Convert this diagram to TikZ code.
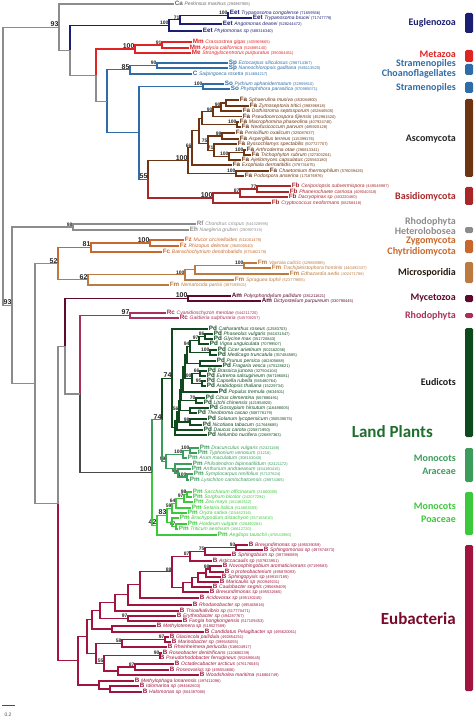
\documentclass[tikz,border=0pt]{standalone}
\usepackage{fontspec}
\setmainfont{Liberation Sans}
\newfontfamily\grpfont{Carlito}
\usetikzlibrary{calc}
\definecolor{eugcol}{HTML}{1A1F71}
\definecolor{metcol}{HTML}{E02424}
\definecolor{stracol}{HTML}{2F6DA8}
\definecolor{ascocol}{HTML}{6E3512}
\definecolor{basicol}{HTML}{A8282A}
\definecolor{greycol}{HTML}{8C8C8C}
\definecolor{darkcol}{HTML}{4A4A4A}
\definecolor{zygcol}{HTML}{C8682C}
\definecolor{miccol}{HTML}{BC7A40}
\definecolor{myccol}{HTML}{5C0A2E}
\definecolor{rccol}{HTML}{A8305C}
\definecolor{eudcol}{HTML}{0E4A1E}
\definecolor{landcol}{HTML}{1E6E2E}
\definecolor{aracol}{HTML}{3C9C5C}
\definecolor{poacol}{HTML}{3CC83C}
\definecolor{baccol}{HTML}{A0143F}
\definecolor{bactxt}{HTML}{7A0A2A}

\newcommand{\leaftxt}[3]{{\bfseries\fontsize{6.3}{7}\selectfont #1}\hspace{1.8pt}{\itshape\fontsize{5}{6}\selectfont #2}\hspace{1.5pt}{\fontsize{4}{5}\selectfont(#3)}}
\newcommand{\bigbs}{\fontsize{7}{8}\selectfont}
% clade: name, x, first child, second child, colours of the two branches, support
\newcommand{\clade}[7]{%
  \path let \p1=($(#3)!.5!(#4)$), \p2=(#2,0) in coordinate (#1) at (\x2,\y1);
  \draw[branch,#5] (#1) |- (#3);
  \draw[branch,#6] (#1) |- (#4);
  \ifx\relax#7\relax\else\node[bs] (#1-bs) at (#1) {#7};\fi}

\begin{document}
\begin{tikzpicture}[x=1pt, y=-1pt,
    branch/.style={line width=1.05pt},
    leaf/.style={anchor=west, inner xsep=0.6pt, inner ysep=0pt, text height=4pt, text depth=0.8pt},
    bs/.style={anchor=south east, inner sep=0.3pt, font=\bfseries\fontsize{5}{6}\selectfont, text=black!85},
    grp/.style={anchor=east, inner sep=0pt, text height=6.6pt, text depth=1.6pt, font=\grpfont\bfseries\fontsize{10}{11}\selectfont},
    bar/.style={rounded corners=1.5pt}]
  \useasboundingbox (0,0) rectangle (474,719);

  % leaves
  \node[leaf, text=black!60] (ca) at (174,4) {\leaftxt{Ca}{Perkinsus marinus}{294967905}};
  \foreach \n/\x/\y/\cd/\nm/\gi in {eug1/229/13/Eet/Trypanosoma congolense/71659556,
      eug2/252/18/Eet/Trypanosoma brucei/71747778, eug3/222/24/Eet/Angomonas deanei/528244472,
      eug4/202/31/Eet/Phytomonas sp/588316340}
    \node[leaf, text=eugcol] (\n) at (\x,\y) {\leaftxt{\cd}{\nm}{\gi}};
  \foreach \n/\x/\y/\cd/\nm/\gi in {met1/192/42/Mm/Crassostrea gigas/405969665,
      met2/189/48/Mm/Aplysia californica/524885140, met3/191/53/Me/Strongylocentrotus purpuratus/390364451}
    \node[leaf, text=metcol] (\n) at (\x,\y) {\leaftxt{\cd}{\nm}{\gi}};
  \foreach \n/\x/\y/\cd/\nm/\gi in {str1/228/63/Sp/Ectocarpus siliculosus/298714367,
      str2/228/68/Sp/Nannochloropsis gaditana/585113520, cho1/192/74/C/Salpingoeca rosetta/514684217,
      sto1/224/84/So/Pythium aphanidermatum/32959810, sto2/230/89/So/Phytophthora parasitica/570985071}
    \node[leaf, text=stracol] (\n) at (\x,\y) {\leaftxt{\cd}{\nm}{\gi}};
  \foreach \n/\x/\y/\nm/\gi in {asc1/239/100/Sphaerulina musiva/453084900,
      asc2/249/106/Zymoseptoria tritici/398396918, asc3/242/111/Dothistroma septosporum/452840505,
      asc4/242/116.5/Pseudocercospora fijiensis/452981520, asc5/239/122/Macrophomina phaseolina/407924740,
      asc6/241/127/Neofusicoccum parvum/485920128, asc7/235/133/Penicillium oxalicum/325087637,
      asc8/239/139/Aspergillus terreus/115399176, asc9/237/144/Byssochlamys spectabilis/507727707,
      asc10/246/150/Arthroderma otae/296813341, asc11/251/155/Trichophyton rubrum/327303204,
      asc12/241/160/Ajellomyces capsulatus/225563180, asc13/232/165/Exophiala dermatitidis/378731675,
      asc14/269/171/Chaetomium thermophilum/576039426, asc15/244/176/Podospora anserina/171676976}
    \node[leaf, text=ascocol] (\n) at (\x,\y) {\leaftxt{Fa}{\nm}{\gi}};
  \foreach \n/\x/\y/\nm/\gi in {bas1/291/186/Ceriporiopsis subvermispora/449548987,
      bas2/289/192/Phanerochaete carnosa/409040318, bas3/288/197/Dacryopinax sp/403220460,
      bas4/271/203/Cryptococcus neoformans/58258418}
    \node[leaf, text=basicol] (\n) at (\x,\y) {\leaftxt{Fb}{\nm}{\gi}};
  \foreach \n/\x/\y/\cd/\nm/\gi in {rho1/196/224/Rf/Chondrus crispus/544328995,
      het1/189/230/Eh/Naegleria gruberi/290997319}
    \node[leaf, text=greycol] (\n) at (\x,\y) {\leaftxt{\cd}{\nm}{\gi}};
  \foreach \n/\x/\y/\cd/\nm/\gi in {zyg1/184/240/Fz/Mucor circinelloides/511001478,
      zyg2/179/246/Fz/Rhizopus delemar/384500540, chy1/162/252/Fc/Batrachochytrium dendrobatidis/575482178}
    \node[leaf, text=zygcol] (\n) at (\x,\y) {\leaftxt{\cd}{\nm}{\gi}};
  \foreach \n/\x/\y/\nm/\gi in {mic1/257/263/Vavraia culicis/429860985,
      mic2/271/268/Trachipleistophora hominis/440492337, mic3/289/274/Edhazardia aedis/402471786,
      mic4/234/280/Spraguea lophii/523779855, mic5/169/285/Nematocida parisii/387593501}
    \node[leaf, text=miccol] (\n) at (\x,\y) {\leaftxt{Fm}{\nm}{\gi}};
  \foreach \n/\x/\y/\nm/\gi in {myc1/231/296/Polysphondylium pallidum/281211621,
      myc2/261/301/Dictyostelium purpureum/330790445}
    \node[leaf, text=myccol] (\n) at (\x,\y) {\leaftxt{Am}{\nm}{\gi}};
  \foreach \n/\x/\y/\nm/\gi in {rc1/166/313/Cyanidioschyzon merolae/544211720,
      rc2/179/318/Galdieria sulphuraria/545709257}
    \node[leaf, text=rccol] (\n) at (\x,\y) {\leaftxt{Rc}{\nm}{\gi}};
  \foreach \n/\x/\y/\nm/\gi in {eud1/208/329/Catharanthus roseus/12583703,
      eud2/213/334/Phaseolus vulgaris/561031547, eud3/213/339/Glycine max/351720843,
      eud4/209/344/Vigna unguiculata/70799507, eud5/217/350/Cicer arietinum/502162036,
      eud6/217/355/Medicago truncatula/357484585, eud7/216/361/Prunus persica/462405688,
      eud8/222/366/Fragaria vesca/470128621, eud9/207/371/Brassica juncea/327504104,
      eud10/206/376/Eutrema salsugineum/567196081, eud11/206/381/Capsella rubella/565480764,
      eud12/206/386/Arabidopsis thaliana/15229734, eud13/218/392/Populus tremula/8634501,
      eud14/205/398/Citrus clementina/567880491, eud15/203/403/Litchi chinensis/421954920,
      eud16/209/408/Gossypium hirsutum/116488005, eud17/197/413/Theobroma cacao/508778179,
      eud18/207/419/Solanum lycopersicum/350539075, eud19/202/425/Nicotiana tabacum/117648685,
      eud20/203/430/Daucus carota/225871950, eud21/207/435/Nelumbo nucifera/226897363}
    \node[leaf, text=eudcol] (\n) at (\x,\y) {\leaftxt{Pd}{\nm}{\gi}};
  \foreach \n/\x/\y/\nm/\gi in {ara1/199/448/Dracunculus vulgaris/52421168,
      ara2/197/453/Typhonium venosum/21216, ara3/187/458/Arum maculatum/308153040,
      ara4/192/464/Philodendron bipinnatifidum/52421172, ara5/191/469/Anthurium andraeanum/454180415,
      ara6/193/474/Symplocarpus renifolius/57137624, ara7/189/480/Lysichiton camtschatcensis/28874365}
    \node[leaf, text=aracol] (\n) at (\x,\y) {\leaftxt{Pm}{\nm}{\gi}};
  \foreach \n/\x/\y/\nm/\gi in {poa1/192/492/Saccharum officinarum/31860095,
      poa2/192/497/Sorghum bicolor/242077294, poa3/193/502/Zea mays/162462512,
      poa4/191/508/Setaria italica/514803593, poa5/187/513/Oryza sativa/115462316,
      poa6/179/518/Brachypodium distachyon/357165610, poa7/187/524/Hordeum vulgare/326490264,
      poa8/178/529/Triticum aestivum/16612720, poa9/217/535/Aegilops tauschii/475543980}
    \node[leaf, text=poacol] (\n) at (\x,\y) {\leaftxt{Pm}{\nm}{\gi}};
  \foreach \n/\x/\y/\nm/\gi in {bac1/248/545/Brevundimonas sp/495539059,
      bac2/263/550/Sphingomonas sp/497874873, bac3/231/555/Sphingobium sp/387396089,
      bac4/212/561/Asticcacaulis sp/507923951, bac5/222/566/Novosphingobium aromaticivorans/87199583,
      bac6/224/572/α proteobacterium/495878093, bac7/221/577/Sphingopyxis sp/499157185,
      bac8/219/582/Maricaulis sp/500949231, bac9/212/587/Caulobacter segnis/295689409,
      bac10/209/592/Brevundimonas sp/495532665, bac11/199/598/Acidovorax sp/495130245,
      bac12/192/605/Rhodanobacter sp/495465816, bac13/179/611/Thioalkalivibrio sp/517770471,
      bac14/176/616/Erythrobacter sp/494287767, bac15/182/621/Fangia hongkongensis/517109453,
      bac16/156/626/Methylotenera sp/519027589, bac17/204/632/Candidatus Pelagibacter sp/495620061,
      bac18/169/637/Glaciecola pallidula/492854251, bac19/171/642/Marinobacter sp/399545055,
      bac20/167/647/Rheinheimera perlucida/518604917, bac21/162/653/Roseobacter denitrificans/110680239,
      bac22/159/658/Pseudorhodobacter ferrugineus/552690645, bac23/174/664/Octadecabacter arcticus/476176045,
      bac24/169/670/Roseovarius sp/495554606, bac25/199/675/Woodsholea maritima/516804749,
      bac26/134/681/Methylophaga lonarensis/497411096, bac27/139/686/Idiomarina sp/494662603,
      bac28/142/692/Halomonas sp/504387068}
    \node[leaf, text=baccol] (\n) at (\x,\y) {\leaftxt{B}{\nm}{\gi}};

  % upper clades
  \clade{g1}{228}{eug1}{eug2}{eugcol}{eugcol}{100}
  \clade{g2}{180}{g1}{eug3}{eugcol}{eugcol}{71}
  \clade{g3}{169}{g2}{eug4}{eugcol}{eugcol}{100}
  \clade{m1}{162}{met1}{met2}{metcol}{metcol}{91}
  \clade{m2}{135}{m1}{met3}{metcol}{metcol}{\bigbs 100}
  \clade{s1}{157}{str1}{str2}{stracol}{stracol}{90}
  \clade{s2}{130}{s1}{cho1}{stracol}{stracol}{\bigbs 85}
  \clade{s3}{203}{sto1}{sto2}{stracol}{stracol}{100}
  \clade{d1}{226}{asc1}{asc2}{ascocol}{ascocol}{}
  \clade{d2}{221}{d1}{asc3}{ascocol}{ascocol}{90}
  \clade{d3}{213}{d2}{asc4}{ascocol}{ascocol}{90}
  \clade{d4}{237}{asc5}{asc6}{ascocol}{ascocol}{100}
  \clade{d5}{202}{d3}{d4}{ascocol}{ascocol}{}
  \clade{e1}{222}{asc7}{asc8}{ascocol}{ascocol}{99}
  \clade{e2}{244}{asc10}{asc11}{ascocol}{ascocol}{100}
  \clade{e3}{229}{e2}{asc12}{ascocol}{ascocol}{100}
  \clade{e4}{214}{asc9}{e3}{ascocol}{ascocol}{71}
  \clade{e5}{208}{e1}{e4}{ascocol}{ascocol}{75}
  \clade{a2}{199}{d5}{e5}{ascocol}{ascocol}{}
  \clade{a1}{192}{a2}{asc13}{ascocol}{ascocol}{66}
  \clade{ch}{236}{asc14}{asc15}{ascocol}{ascocol}{100}
  \clade{ascr}{188}{a1}{ch}{ascocol}{ascocol}{\bigbs 100}
  \clade{bb1}{257}{bas1}{bas2}{basicol}{basicol}{77}
  \clade{bb2}{240}{bb1}{bas3}{basicol}{basicol}{87}
  \clade{bb3}{213}{bb2}{bas4}{basicol}{basicol}{\bigbs 100}
  \clade{H}{148}{ascr}{bb3}{ascocol}{basicol}{\bigbs 55}
  \clade{G}{139}{s3}{H}{stracol}{stracol}{}
  \clade{E}{107}{s2}{G}{stracol}{stracol}{}
  \clade{D}{96}{m2}{E}{metcol}{greycol}{}
  \clade{C}{70}{g3}{D}{eugcol}{greycol}{}
  \clade{A}{59}{ca}{C}{greycol}{greycol}{\bigbs 93}

  % lower clades
  \clade{rh}{73}{rho1}{het1}{greycol}{greycol}{98}
  \clade{z1}{150}{zyg1}{zyg2}{zygcol}{zygcol}{\bigbs 100}
  \clade{z2}{91}{z1}{chy1}{zygcol}{zygcol}{\bigbs 81}
  \clade{mi1}{244}{mic1}{mic2}{miccol}{miccol}{100}
  \clade{mi2}{195}{mi1}{mic3}{miccol}{miccol}{}
  \clade{mi3}{185}{mi2}{mic4}{miccol}{miccol}{100}
  \clade{mi4}{88}{mi3}{mic5}{miccol}{miccol}{\bigbs 62}
  \clade{F5}{58}{z2}{mi4}{zygcol}{miccol}{\bigbs 52}
  \clade{myc}{188}{myc1}{myc2}{myccol}{myccol}{\bigbs 100}
  \clade{rc}{130}{rc1}{rc2}{rccol}{rccol}{\bigbs 97}
  \clade{f1}{205}{eud2}{eud3}{eudcol}{eudcol}{86}
  \clade{f2}{199}{f1}{eud4}{eudcol}{eudcol}{97}
  \clade{f3}{210}{eud5}{eud6}{eudcol}{eudcol}{100}
  \clade{f4}{190}{f2}{f3}{eudcol}{eudcol}{94}
  \clade{r1}{200}{eud7}{eud8}{eudcol}{eudcol}{}
  \clade{eI}{187}{f4}{r1}{eudcol}{eudcol}{}
  \clade{k1}{200}{eud9}{eud10}{eudcol}{eudcol}{66}
  \clade{k2}{202}{eud11}{eud12}{eudcol}{eudcol}{95}
  \clade{k3}{192}{k1}{k2}{eudcol}{eudcol}{100}
  \clade{eH}{185}{eI}{k3}{eudcol}{eudcol}{}
  \clade{eG}{183}{eH}{eud13}{eudcol}{eudcol}{}
  \clade{c1}{196}{eud14}{eud15}{eudcol}{eudcol}{70}
  \clade{eF}{181}{eG}{c1}{eudcol}{eudcol}{}
  \clade{t1}{190}{eud16}{eud17}{eudcol}{eudcol}{}
  \clade{eD}{180}{eF}{t1}{eudcol}{eudcol}{}
  \clade{so1}{190}{eud18}{eud19}{eudcol}{eudcol}{98}
  \clade{eC}{179}{eD}{so1}{eudcol}{eudcol}{56}
  \clade{eB}{177}{eC}{eud20}{eudcol}{eudcol}{}
  \clade{eA}{175}{eB}{eud21}{eudcol}{eudcol}{}
  \clade{eu}{172}{eud1}{eA}{eudcol}{eudcol}{\bigbs 74}
  \clade{ar1}{190}{ara1}{ara2}{aracol}{aracol}{100}
  \clade{ar2}{183}{ar1}{ara3}{aracol}{aracol}{100}
  \clade{ar3}{187}{ara6}{ara7}{aracol}{aracol}{100}
  \clade{ar4}{178}{ara5}{ar3}{aracol}{aracol}{95}
  \clade{ar5}{175}{ara4}{ar4}{aracol}{aracol}{}
  \clade{ar}{166}{ar2}{ar5}{aracol}{aracol}{99}
  \clade{X}{162}{eu}{ar}{eudcol}{aracol}{\bigbs 74}
  \clade{p1}{187}{poa1}{poa2}{poacol}{poacol}{98}
  \clade{p2}{184}{p1}{poa3}{poacol}{poacol}{97}
  \clade{p3}{176}{p2}{poa4}{poacol}{poacol}{64}
  \clade{p4}{172}{p3}{poa5}{poacol}{poacol}{59}
  \clade{p6}{176}{poa7}{poa8}{poacol}{poacol}{97}
  \clade{p7}{172}{poa6}{p6}{poacol}{poacol}{}
  \clade{p5}{167}{p4}{p7}{poacol}{poacol}{\bigbs 83}
  \clade{po}{157}{p5}{poa9}{poacol}{poacol}{\bigbs 42}
  \clade{PL}{152}{X}{po}{aracol}{poacol}{\bigbs 100}
  \clade{b1}{236}{bac1}{bac2}{baccol}{baccol}{93}
  \clade{b2}{205}{b1}{bac3}{baccol}{baccol}{75}
  \clade{b3}{190}{b2}{bac4}{baccol}{baccol}{87}
  \clade{b4}{210}{bac5}{bac6}{baccol}{baccol}{98}
  \clade{b5}{206}{b4}{bac7}{baccol}{baccol}{}
  \clade{b6}{198}{b5}{bac8}{baccol}{baccol}{}
  \clade{b7}{192}{b6}{bac9}{baccol}{baccol}{}
  \clade{b8}{183}{b7}{bac10}{baccol}{baccol}{}
  \clade{b9}{172}{b3}{b8}{baccol}{baccol}{88}
  \clade{b10}{140}{b9}{bac11}{baccol}{baccol}{}
  \clade{b11}{128}{b10}{bac12}{baccol}{baccol}{}
  \clade{b12}{115}{b11}{bac13}{baccol}{baccol}{}
  \clade{b13}{128}{bac14}{bac15}{baccol}{baccol}{97}
  \clade{b14}{100}{b12}{b13}{baccol}{baccol}{}
  \clade{b15}{112}{bac16}{bac17}{baccol}{baccol}{}
  \clade{b16}{92}{b14}{b15}{baccol}{baccol}{}
  \clade{b17}{165}{bac18}{bac19}{baccol}{baccol}{97}
  \clade{b18}{122}{b17}{bac20}{baccol}{baccol}{58}
  \clade{b19}{160}{bac21}{bac22}{baccol}{baccol}{90}
  \clade{b20}{135}{bac23}{bac24}{baccol}{baccol}{87}
  \clade{b21}{118}{b20}{bac25}{baccol}{baccol}{}
  \clade{b22}{104}{b19}{b21}{baccol}{baccol}{55}
  \clade{b23}{96}{b18}{b22}{baccol}{baccol}{}
  \clade{b24}{87}{b16}{b23}{baccol}{baccol}{}
  \clade{b25}{110}{bac27}{bac28}{baccol}{baccol}{}
  \clade{b26}{99}{bac26}{b25}{baccol}{baccol}{}
  \clade{eub}{78}{b24}{b26}{baccol}{baccol}{}
  \clade{R}{80}{rc}{PL}{rccol}{darkcol}{}
  \clade{Q}{65}{myc}{R}{myccol}{greycol}{}
  \clade{P}{58}{Q}{eub}{greycol}{baccol}{}
  \clade{N}{35}{F5}{P}{greycol}{greycol}{}
  \clade{B}{12}{rh}{N}{greycol}{greycol}{\bigbs 93}
  \clade{root}{3}{A}{B}{greycol}{greycol}{}

  % group labels and bars
  \node[grp, text=eugcol] (lEug) at (456,23) {Euglenozoa};
  \node[grp, text=metcol] (lMet) at (456,55) {Metazoa};
  \node[grp, text=stracol] (lStr) at (456,64) {Stramenopiles};
  \node[grp, text=stracol] (lCho) at (456,74.5) {Choanoflagellates};
  \node[grp, text=stracol] (lSto) at (456,88) {Stramenopiles};
  \node[grp, text=black!85] (lAsc) at (456,139) {Ascomycota};
  \node[grp, text=basicol] (lBas) at (456,197) {Basidiomycota};
  \node[grp, text=greycol] (lRho) at (456,222) {Rhodophyta};
  \node[grp, text=greycol] (lHet) at (456,232) {Heterolobosea};
  \node[grp, text=zygcol] (lZyg) at (456,241) {Zygomycota};
  \node[grp, text=zygcol] (lChy) at (456,252) {Chytridiomycota};
  \node[grp, text=black!80!brown] (lMic) at (456,273) {Microsporidia};
  \node[grp, text=myccol] (lMyc) at (456,298) {Mycetozoa};
  \node[grp, text=rccol] (lRc) at (456,316) {Rhodophyta};
  \node[grp, text=black!90] (lEud) at (456,383) {Eudicots};
  \node[grp, text=landcol, text height=11.5pt, text depth=3pt, font=\grpfont\bfseries\fontsize{17}{20}\selectfont] (lLand) at (433,433) {Land Plants};
  \node[grp, text=aracol] (lMo1) at (456,459) {Monocots};
  \node[grp, text=aracol] (lAra) at (456,472) {Araceae};
  \node[grp, text=poacol] (lMo2) at (456,507) {Monocots};
  \node[grp, text=poacol] (lPoa) at (456,520) {Poaceae};
  \node[grp, text=bactxt, text height=11.5pt, text depth=3pt, font=\grpfont\bfseries\fontsize{17}{20}\selectfont] (lBac) at (456,620) {Eubacteria};
  \foreach \c/\ya/\yb in {eugcol/13/33, metcol/50/62, stracol/64/75, stracol/82/93,
      ascocol/99/177, basicol/187/205, greycol/227/233, zygcol/240/253, miccol/262/283,
      myccol/295/302, rccol/313/318, eudcol/328/437, aracol/448/482, poacol/492/535, baccol/545/691}
    \fill[bar, \c] (465,\ya) rectangle (473,\yb);

  % scale
  \coordinate (sc0) at (2,705);
  \coordinate (sc1) at (15,705);
  \draw[line width=0.6pt, black!70] (sc0) -- (sc1);
  \node[font=\fontsize{5}{6}\selectfont, text=black!70] (scl) at (8,715) {0.2};
\end{tikzpicture}
\end{document}
